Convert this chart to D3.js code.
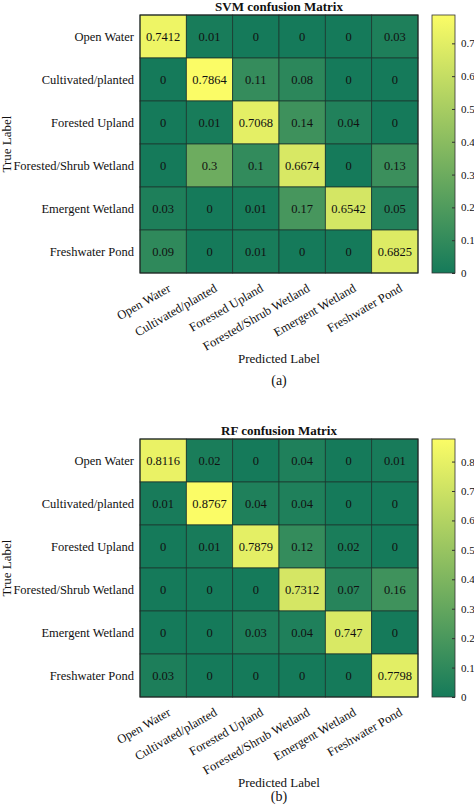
<!DOCTYPE html><html><head><meta charset="utf-8">
<script src="https://cdn.jsdelivr.net/npm/d3@7"></script>
<style>body{margin:0;background:#fff}text{font-family:"Liberation Serif",serif;fill:#111}</style></head><body>
<svg id="c" width="474" height="810"></svg>
<script>
const categories=["Open Water","Cultivated/planted","Forested Upland","Forested/Shrub Wetland","Emergent Wetland","Freshwater Pond"];
const svmValues=[[0.7412,0.01,0,0,0,0.03],[0,0.7864,0.11,0.08,0,0],[0,0.01,0.7068,0.14,0.04,0],[0,0.3,0.1,0.6674,0,0.13],[0.03,0,0.01,0.17,0.6542,0.05],[0.09,0,0.01,0,0,0.6825]];
const rfValues=[[0.8116,0.02,0,0.04,0,0.01],[0.01,0.8767,0.04,0.04,0,0],[0,0.01,0.7879,0.12,0.02,0],[0,0,0,0.7312,0.07,0.16],[0,0,0.03,0.04,0.747,0],[0.03,0,0,0,0,0.7798]];
const svmTicks=[0,0.1,0.2,0.3,0.4,0.5,0.6,0.7];
const rfTicks=[0,0.1,0.2,0.3,0.4,0.5,0.6,0.7,0.8];
const svg=d3.select("#c");
function panel(top,title,vals,ticks,letter,letterOff){
  const x0=140,x1=418,y0=top,y1=top+258;
  const x=d3.scaleBand().domain(categories).range([x0,x1]);
  const y=d3.scaleBand().domain(categories).range([y0,y1]);
  const mx=d3.max(vals.flat());
  const col=d3.scaleLinear().domain([0,mx]).range(["#157a5a","#fbfc66"]).interpolate(d3.interpolateRgb);
  const g=svg.append("g");
  vals.forEach((row,i)=>row.forEach((v,j)=>{
    g.append("rect").attr("x",x(categories[j])).attr("y",y(categories[i])).attr("width",x.bandwidth()).attr("height",y.bandwidth()).attr("fill",col(v)).attr("stroke","#1c3a30").attr("stroke-width",0.8);
    g.append("text").attr("x",x(categories[j])+x.bandwidth()/2).attr("y",y(categories[i])+y.bandwidth()/2).attr("dy","0.35em").attr("text-anchor","middle").attr("font-size",12.5).text(v);
  }));
  g.append("rect").attr("x",x0).attr("y",y0).attr("width",x1-x0).attr("height",y1-y0).attr("fill","none").attr("stroke","#222");
  categories.forEach(c=>{
    g.append("text").attr("x",x0-6).attr("y",y(c)+y.bandwidth()/2).attr("dy","0.35em").attr("text-anchor","end").attr("font-size",12.5).text(c);
    const cx=x(c)+x.bandwidth()/2;
    g.append("text").attr("transform",`translate(${cx+4},${y1+10}) rotate(-30)`).attr("dy","0.7em").attr("text-anchor","end").attr("font-size",12.5).text(c);
  });
  g.append("text").attr("x",279).attr("y",top-4).attr("text-anchor","middle").attr("font-weight","bold").attr("font-size",13).text(title);
  g.append("text").attr("x",279).attr("y",y1+90).attr("text-anchor","middle").attr("font-size",13).text("Predicted Label");
  g.append("text").attr("x",279).attr("y",y1+letterOff).attr("text-anchor","middle").attr("font-size",14).text(letter);
  g.append("text").attr("transform",`translate(11,${(y0+y1)/2}) rotate(-90)`).attr("text-anchor","middle").attr("font-size",13).text("True Label");
  const cb=d3.scaleLinear().domain([0,mx]).range([y1,y0]);
  const defs=svg.append("defs");const id="gr"+top;
  const lg=defs.append("linearGradient").attr("id",id).attr("x1",0).attr("y1",1).attr("x2",0).attr("y2",0);
  lg.append("stop").attr("offset",0).attr("stop-color",col(0));
  lg.append("stop").attr("offset",1).attr("stop-color",col(mx));
  g.append("rect").attr("x",432).attr("y",y0).attr("width",23).attr("height",y1-y0).attr("fill",`url(#${id})`).attr("stroke","#333").attr("stroke-width",0.8);
  const ax=g.append("g").attr("transform","translate(455,0)").call(d3.axisRight(cb).tickValues(ticks).tickSize(0).tickPadding(6).tickFormat(d3.format("")));
  ax.select(".domain").remove();
  ax.selectAll("text").attr("font-size",11).attr("font-family","Liberation Serif");
  ax.selectAll(".tick").append("line").attr("x1",-3).attr("x2",0).attr("stroke","#333");
}
panel(15,"SVM confusion Matrix",svmValues,svmTicks,"(a)",112);
panel(439,"RF confusion Matrix",rfValues,rfTicks,"(b)",104);
</script></body></html>
